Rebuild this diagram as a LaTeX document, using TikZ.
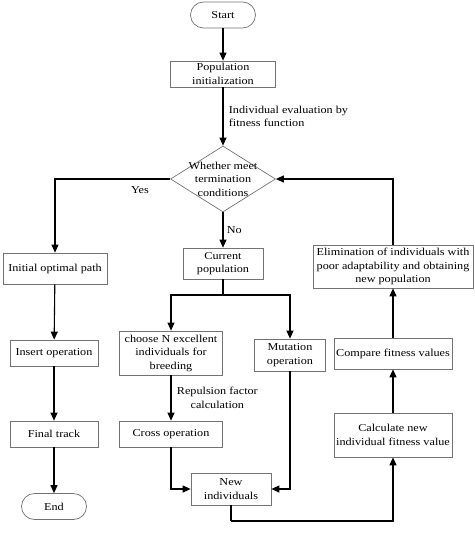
\documentclass[tikz,border=0pt]{standalone}
\usepackage{fontspec}
\setmainfont[FakeStretch=1.15]{Liberation Serif}
\usetikzlibrary{arrows.meta, positioning, calc, shapes.geometric}

\begin{document}
\begin{tikzpicture}[
    x=1pt, y=-1pt,
    font=\fontsize{10.6}{13.5}\selectfont,
    box/.style={rectangle, draw=black!55, line width=0.7pt, align=center, inner sep=1pt},
    term/.style={box, rounded corners=13pt, minimum width=65pt, minimum height=26pt},
    judge/.style={diamond, draw=black!55, line width=0.7pt, minimum width=105pt, minimum height=66pt, inner sep=0pt},
    flow/.style={-{Triangle[length=8pt, width=7pt]}, line width=1.1pt},
    link/.style={line width=1.1pt}
  ]
  \useasboundingbox (0,0) rectangle (474,535);
  % main column
  \node[term] (start) at (223,15) {Start};
  \node[box, minimum width=105pt, minimum height=26pt] (init) at (223,74) {Population\\initialization};
  \node[judge, label={[align=center]center:Whether meet\\termination\\conditions}] (cond) at (223,179) {};
  \node[box, minimum width=80pt, minimum height=31pt] (cur) at (223,263.5) {Current\\population};
  % left column
  \node[box, minimum width=104pt, minimum height=31pt] (path) at (55,268.5) {Initial optimal path};
  \node[box, minimum width=88pt, minimum height=26pt] (insert) at (54,353) {Insert operation};
  \node[box, minimum width=88pt, minimum height=26pt] (track) at (54,434) {Final track};
  \node[term] (end) at (54,506.5) {End};
  % breeding
  \node[box, minimum width=103pt, minimum height=44pt] (choose) at (171,353) {choose N excellent\\individuals for\\breeding};
  \node[box, minimum width=71pt, minimum height=32pt] (mutate) at (290,355) {Mutation\\operation};
  \node[box, minimum width=103pt, minimum height=26pt] (cross) at (171,434) {Cross operation};
  \node[box, minimum width=80pt, minimum height=32pt] (newind) at (231,489) {New\\individuals};
  % right column
  \node[box, minimum width=118pt, minimum height=44pt] (calc) at (393,435) {Calculate new\\individual fitness value};
  \node[box, minimum width=118pt, minimum height=31pt] (comp) at (393,353.5) {Compare fitness values};
  \node[box, minimum width=160pt, minimum height=43pt] (elim) at (393,266.5) {Elimination of individuals with\\poor adaptability and obtaining\\new population};
  \coordinate (split) at (223,295);
  \coordinate (loop) at (231,521);
  % connectors
  \draw[flow] (start) -- (init);
  \draw[flow] (init) -- node[right, align=left, xshift=2pt] {Individual evaluation by\\fitness function} (cond);
  \draw[flow] (cond.west) -| (path.north);
  \node at (140,190) {Yes};
  \draw[flow] (cond.south) -- node[right] {No} (cur.north);
  \draw[flow] (path) -- (insert);
  \draw[flow] (insert) -- (track);
  \draw[flow] (track) -- (end);
  \draw[link] (cur.south) -- (split);
  \draw[flow] (split) -| (choose.north);
  \draw[flow] (split) -| (mutate.north);
  \draw[flow] (choose) -- node[right, align=center, xshift=2pt] {Repulsion factor\\calculation} (cross);
  \draw[flow] (cross.south) |- (newind.west);
  \draw[flow] (mutate.south) |- (newind.east);
  \draw[link] (newind.south) -- (loop);
  \draw[flow] (loop) -| (calc.south);
  \draw[flow] (calc) -- (comp);
  \draw[flow] (comp) -- (elim);
  \draw[flow] (elim.north) |- (cond.east);
\end{tikzpicture}
\end{document}
